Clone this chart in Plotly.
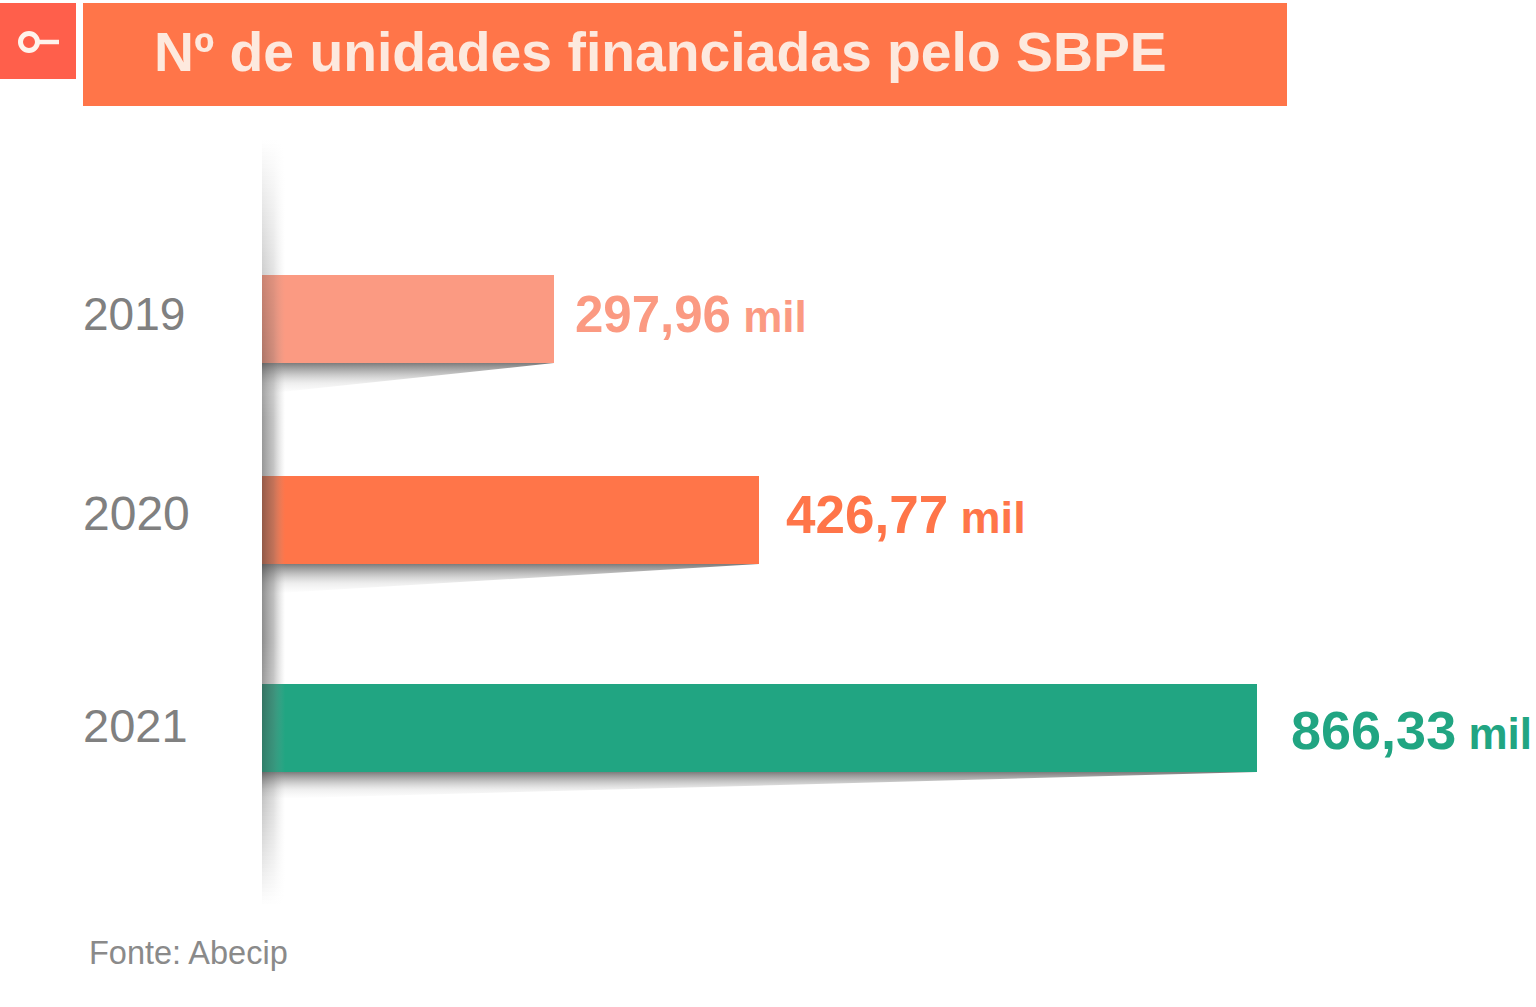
import numpy as np
import plotly.graph_objects as go

# ---- data
years = ["2019", "2020", "2021"]
value_labels = ["297,96", "426,77", "866,33"]
bar_lengths = [254.2, 432.7, 866.33]   # drawn lengths (the source's bars are not strictly to scale)
bar_colors = ["#FB9A82", "#FF7549", "#21A582"]
title_text = "Nº de unidades financiadas pelo SBPE"
source_text = "Fonte: Abecip"

# ---- layout constants
W, H = 1536, 1007
X0 = 262
PX_PER_UNIT = 995 / 866.33
CAT0, CAT_STEP = 318.0, 204.5
BAR_PX = 88
bar_nudge_px = [1, -2.5, 1]
year_shift_px = [4, 9.5, 2]
year_size = [46, 48, 47]
value_shift_px = [4, 8.5, -3]
value_gap_px = [19, 25, 32]
value_size = [51, 53, 54]
unit_size = [44, 45, 44]
shadow_px = [31, 30, 27]
FONT = "Liberation Sans"

fig = go.Figure()

# bars
fig.add_trace(go.Bar(
    y=years, x=bar_lengths, orientation="h",
    width=BAR_PX / CAT_STEP,
    offset=[(-BAR_PX / 2 + n) / CAT_STEP for n in bar_nudge_px],
    marker=dict(color=bar_colors, line=dict(width=0)),
    hoverinfo="skip", showlegend=False,
))

# soft shadows below each bar (x on the bar scale, y on a pixel overlay)
for i, L in enumerate(bar_lengths):
    centre = CAT0 + i * CAT_STEP + bar_nudge_px[i]
    bottom = centre + BAR_PX / 2
    h = shadow_px[i]
    fig.add_trace(go.Scatter(
        x=[0, L, 0, 0], y=[bottom, bottom, bottom + h, bottom],
        xaxis="x", yaxis="y2", mode="lines", line=dict(width=0),
        fill="toself",
        fillgradient=dict(type="vertical", start=bottom, stop=bottom + h,
                          colorscale=[[0, "rgba(80,80,80,0.75)"], [0.3, "rgba(120,120,120,0.5)"],
                                      [0.65, "rgba(170,170,170,0.2)"], [1, "rgba(200,200,200,0)"]]),
        hoverinfo="skip", showlegend=False,
    ))

# vertical shadow at the base of the bars
edges = np.arange(140, 906, 4)
env_y = [140, 270, 420, 640, 780, 905]
env_a = [0.0, 0.26, 0.55, 0.62, 0.38, 0.0]
strip_units = 23 / PX_PER_UNIT
for a, b in zip(edges[:-1], edges[1:]):
    alpha = float(np.interp((a + b) / 2, env_y, env_a))
    fig.add_trace(go.Scatter(
        x=[0, strip_units, strip_units, 0, 0], y=[a, a, b, b, a],
        xaxis="x", yaxis="y2", mode="lines", line=dict(width=0),
        fill="toself",
        fillgradient=dict(type="horizontal", start=0, stop=strip_units,
                          colorscale=[[0, f"rgba(70,70,70,{alpha:.3f})"],
                                      [0.5, f"rgba(110,110,110,{alpha * 0.72:.3f})"],
                                      [1, "rgba(160,160,160,0)"]]),
        hoverinfo="skip", showlegend=False,
    ))

shapes = [
    dict(type="rect", xref="paper", yref="paper", x0=83 / W, x1=1287 / W, y0=1 - 3 / H, y1=1 - 106 / H,
         fillcolor="#FF7549", line_width=0, layer="below"),
    dict(type="rect", xref="paper", yref="paper", x0=0, x1=76 / W, y0=1 - 3 / H, y1=1 - 79 / H,
         fillcolor="#FF5F4B", line_width=0, layer="below"),
    dict(type="circle", xref="paper", yref="paper", x0=20.5 / W, x1=37.5 / W, y0=1 - 33.5 / H, y1=1 - 50.5 / H,
         fillcolor="rgba(0,0,0,0)", line=dict(color="#FFF3EC", width=5)),
    dict(type="line", xref="paper", yref="paper", x0=39 / W, x1=59 / W, y0=1 - 42 / H, y1=1 - 42 / H,
         line=dict(color="#FFF3EC", width=4.5)),
]

annotations = []
for i, yr in enumerate(years):
    annotations.append(dict(
        text=yr, xref="paper", x=81 / W, yref="y", y=i, xanchor="left", yanchor="middle",
        yshift=year_shift_px[i], showarrow=False,
        font=dict(family=FONT, size=year_size[i], color="#808080"),
    ))
    annotations.append(dict(
        text=f'{value_labels[i]}<span style="font-size:{unit_size[i]}px"> mil</span>',
        xref="x", x=bar_lengths[i], xshift=value_gap_px[i], yref="y", y=i,
        xanchor="left", yanchor="middle", yshift=value_shift_px[i], showarrow=False,
        font=dict(family=FONT, size=value_size[i], color=bar_colors[i], weight=700),
    ))
annotations.append(dict(
    text=source_text, xref="paper", yref="paper", x=87 / W, y=1 - 953 / H,
    xanchor="left", yanchor="middle", showarrow=False,
    font=dict(family=FONT, size=32.5, color="#8A8A8A"),
))

fig.update_layout(
    width=W, height=H, margin=dict(l=0, r=0, t=0, b=0),
    paper_bgcolor="white", plot_bgcolor="rgba(0,0,0,0)",
    title=dict(text=title_text, x=154 / W, xref="paper", xanchor="left",
               y=1 - 52 / H, yref="paper", yanchor="middle",
               font=dict(family=FONT, size=55.3, color="#FDE9DE", weight=700)),
    xaxis=dict(domain=[X0 / W, 1], range=[0, (W - X0) / PX_PER_UNIT], visible=False, fixedrange=True),
    yaxis=dict(type="category", categoryorder="array", categoryarray=years, domain=[0, 1],
               range=[(H - CAT0) / CAT_STEP, -CAT0 / CAT_STEP], visible=False, fixedrange=True),
    yaxis2=dict(domain=[0, 1], range=[H, 0], overlaying="y", visible=False, fixedrange=True),
    shapes=shapes, annotations=annotations, bargap=0,
)

fig.write_html("out.html", config={"displayModeBar": False},
               post_script="document.body.style.margin='0';document.body.style.overflow='hidden';")
